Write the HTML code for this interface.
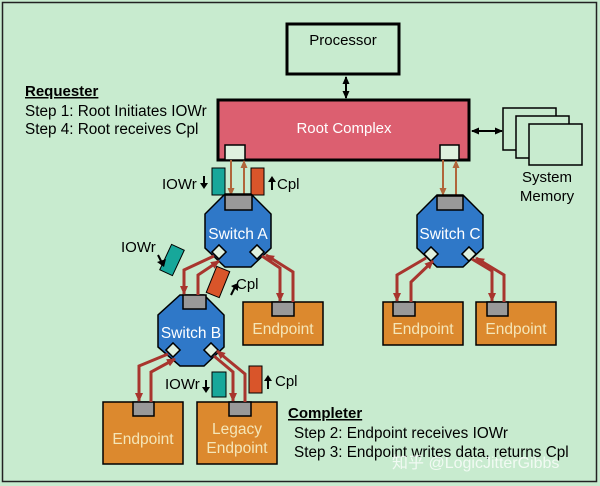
<!DOCTYPE html>
<html><head><meta charset="utf-8"><style>
html,body{margin:0;padding:0;background:#c8ebcf;}
svg{display:block;font-family:"Liberation Sans",Arial,sans-serif;}
</style></head><body>
<svg width="600" height="486" viewBox="0 0 600 486" xmlns="http://www.w3.org/2000/svg">
<defs>
<marker id="ar" markerWidth="9" markerHeight="9" refX="8" refY="4.5" orient="auto" markerUnits="userSpaceOnUse"><path d="M0,0.5 L9,4.5 L0,8.5 z" fill="#a8352e"/></marker>
<marker id="ab" markerWidth="8" markerHeight="8" refX="7" refY="4" orient="auto" markerUnits="userSpaceOnUse"><path d="M0,0.5 L8,4 L0,7.5 z" fill="#b0653a"/></marker>
<marker id="ak" markerWidth="8" markerHeight="8" refX="7" refY="4" orient="auto" markerUnits="userSpaceOnUse"><path d="M0,0.5 L8,4 L0,7.5 z" fill="#000"/></marker>
<marker id="aks" markerWidth="8" markerHeight="8" refX="1" refY="4" orient="auto" markerUnits="userSpaceOnUse"><path d="M8,0.5 L0,4 L8,7.5 z" fill="#000"/></marker>
</defs>
<rect x="0" y="0" width="600" height="486" fill="#c8ebcf"/>
<rect x="2.5" y="2.5" width="594" height="479" fill="none" stroke="#222" stroke-width="1.5"/>

<rect x="287" y="24" width="112" height="50" fill="#c8ebcf" stroke="#000" stroke-width="3"/>
<text x="343" y="45" font-size="15" text-anchor="middle">Processor</text>
<line x1="346" y1="77" x2="346" y2="98" stroke="#000" stroke-width="2" marker-end="url(#ak)" marker-start="url(#aks)"/>

<rect x="218" y="100" width="251" height="60" fill="#dc5f70" stroke="#000" stroke-width="3"/>
<text x="344" y="133" font-size="15" fill="#fff" text-anchor="middle">Root Complex</text>
<rect x="225" y="145" width="20" height="15" fill="#dff1df" stroke="#000" stroke-width="1.5"/>
<rect x="440" y="145" width="19" height="15" fill="#dff1df" stroke="#000" stroke-width="1.5"/>
<line x1="472" y1="131" x2="502" y2="131" stroke="#000" stroke-width="2" marker-end="url(#ak)" marker-start="url(#aks)"/>

<rect x="503" y="108" width="53" height="42" fill="#c8ebcf" stroke="#000" stroke-width="1.5"/>
<rect x="516" y="116" width="53" height="42" fill="#c8ebcf" stroke="#000" stroke-width="1.5"/>
<rect x="529" y="124" width="53" height="41" fill="#c8ebcf" stroke="#000" stroke-width="1.5"/>
<text x="547" y="182" font-size="15" text-anchor="middle">System</text>
<text x="547" y="201" font-size="15" text-anchor="middle">Memory</text>

<text x="25" y="96" font-size="15" font-weight="bold" text-decoration="underline">Requester</text>
<text x="25" y="116" font-size="15.3">Step 1: Root Initiates IOWr</text>
<text x="25" y="134" font-size="15.3">Step 4: Root receives Cpl</text>

<line x1="231" y1="160" x2="231" y2="195" stroke="#b0653a" stroke-width="2" marker-end="url(#ab)"/>
<line x1="244" y1="195" x2="244" y2="161" stroke="#b0653a" stroke-width="2" marker-end="url(#ab)"/>
<rect x="212" y="168" width="13" height="27" fill="#17a79a" stroke="#000" stroke-width="1"/>
<rect x="251" y="168" width="13" height="27" fill="#d9552a" stroke="#000" stroke-width="1"/>
<text x="162" y="189" font-size="15">IOWr</text>
<path d="M204,176 L204,186" stroke="#000" stroke-width="2"/><path d="M200,183 L204,189 L208,183 z"/>
<path d="M272,190 L272,180" stroke="#000" stroke-width="2"/><path d="M268,182 L272,176 L276,182 z"/>
<text x="277" y="189" font-size="15">Cpl</text>

<line x1="443" y1="160" x2="443" y2="195" stroke="#b0653a" stroke-width="2" marker-end="url(#ab)"/>
<line x1="456" y1="195" x2="456" y2="161" stroke="#b0653a" stroke-width="2" marker-end="url(#ab)"/>

<polygon points="225,194 251,194 271,214 271,248 251,267 225,267 205,248 205,214" fill="#2f78c8" stroke="#000" stroke-width="1.5"/>
<rect x="225" y="195" width="27" height="15" fill="#999" stroke="#000" stroke-width="1.5"/>
<text x="238" y="239" font-size="15.5" fill="#fff" text-anchor="middle">Switch A</text>
<rect x="214" y="247" width="10" height="10" fill="#dff1df" stroke="#000" stroke-width="1.5" transform="rotate(45 219 252)"/>
<rect x="252" y="247" width="10" height="10" fill="#dff1df" stroke="#000" stroke-width="1.5" transform="rotate(45 257 252)"/>

<polygon points="437,195 463,195 483,215 483,248 463,267 437,267 417,248 417,215" fill="#2f78c8" stroke="#000" stroke-width="1.5"/>
<rect x="437" y="196" width="26" height="14" fill="#999" stroke="#000" stroke-width="1.5"/>
<text x="450" y="239" font-size="15.5" fill="#fff" text-anchor="middle">Switch C</text>
<rect x="426" y="249" width="10" height="10" fill="#dff1df" stroke="#000" stroke-width="1.5" transform="rotate(45 431 254)"/>
<rect x="464" y="249" width="10" height="10" fill="#dff1df" stroke="#000" stroke-width="1.5" transform="rotate(45 469 254)"/>

<polygon points="180,295 204,295 224,315 224,347 204,366 180,366 158,347 158,315" fill="#2f78c8" stroke="#000" stroke-width="1.5"/>
<rect x="183" y="295" width="23" height="14" fill="#999" stroke="#000" stroke-width="1.5"/>
<text x="191" y="338" font-size="15.5" fill="#fff" text-anchor="middle">Switch B</text>
<rect x="168" y="345" width="10" height="10" fill="#dff1df" stroke="#000" stroke-width="1.5" transform="rotate(45 173 350)"/>
<rect x="206" y="345" width="10" height="10" fill="#dff1df" stroke="#000" stroke-width="1.5" transform="rotate(45 211 350)"/>

<g fill="#dc892e" stroke="#000" stroke-width="1.5">
<rect x="243" y="302" width="80" height="43"/>
<rect x="383" y="302" width="80" height="43"/>
<rect x="476" y="302" width="80" height="43"/>
<rect x="103" y="402" width="80" height="62"/>
<rect x="197" y="402" width="80" height="62"/>
</g>
<g fill="#999" stroke="#000" stroke-width="1.5">
<rect x="272" y="302" width="22" height="14"/>
<rect x="393" y="302" width="22" height="14"/>
<rect x="487" y="302" width="21" height="14"/>
<rect x="133" y="402" width="21" height="14"/>
<rect x="229" y="402" width="22" height="14"/>
</g>
<g fill="#f4e6b8" font-size="15.5" text-anchor="middle">
<text x="283" y="334">Endpoint</text>
<text x="423" y="334">Endpoint</text>
<text x="516" y="334">Endpoint</text>
<text x="143" y="444">Endpoint</text>
<text x="237" y="434">Legacy</text>
<text x="237" y="453">Endpoint</text>
</g>

<g fill="none" stroke="#a8352e" stroke-width="3">
<polyline points="214,256 184,270 184,294" marker-end="url(#ar)"/>
<polyline points="198,295 198,275 219,261" marker-end="url(#ar)"/>
<polyline points="262,256 280,268 280,301" marker-end="url(#ar)"/>
<polyline points="293,302 293,272 266,255" marker-end="url(#ar)"/>
<polyline points="426,258 397,275 397,301" marker-end="url(#ar)"/>
<polyline points="411,302 411,282 433,261" marker-end="url(#ar)"/>
<polyline points="472,259 492,271 492,301" marker-end="url(#ar)"/>
<polyline points="504,302 504,275 476,258" marker-end="url(#ar)"/>
<polyline points="168,354 139,366 139,401" marker-end="url(#ar)"/>
<polyline points="151,402 151,372 175,359" marker-end="url(#ar)"/>
<polyline points="214,356 233,372 233,401" marker-end="url(#ar)"/>
<polyline points="245,402 245,374 217,351" marker-end="url(#ar)"/>
</g>

<rect x="165" y="246" width="14" height="28" fill="#17a79a" stroke="#000" stroke-width="1" transform="rotate(25 172 260)"/>
<rect x="211" y="268" width="14" height="28" fill="#d9552a" stroke="#000" stroke-width="1" transform="rotate(22 218 282)"/>
<text x="121" y="252" font-size="15">IOWr</text>
<path d="M158,255 L162,263" stroke="#000" stroke-width="2"/><path d="M157,262 L164,267 L166,259 z"/>
<path d="M231,295 L235,287" stroke="#000" stroke-width="2"/><path d="M231,286 L238,283 L238,291 z"/>
<text x="236" y="289" font-size="15">Cpl</text>

<rect x="212" y="372" width="14" height="25" fill="#17a79a" stroke="#000" stroke-width="1"/>
<rect x="249" y="366" width="13" height="27" fill="#d9552a" stroke="#000" stroke-width="1"/>
<text x="165" y="389" font-size="15">IOWr</text>
<path d="M206,380 L206,390" stroke="#000" stroke-width="2"/><path d="M202,387 L206,393 L210,387 z"/>
<path d="M268,389 L268,379" stroke="#000" stroke-width="2"/><path d="M264,381 L268,375 L272,381 z"/>
<text x="275" y="386" font-size="15">Cpl</text>

<text x="288" y="418" font-size="15" font-weight="bold" text-decoration="underline">Completer</text>
<text x="294" y="438" font-size="15.3">Step 2: Endpoint receives IOWr</text>
<text x="294" y="457" font-size="15.3">Step 3: Endpoint writes data, returns Cpl</text>
<text x="392" y="468" font-size="16" fill="#fff" fill-opacity="0.75" font-family="'Liberation Sans','Noto Sans CJK SC',sans-serif">知乎 @LogicJitterGibbs</text>
</svg>
</body></html>
